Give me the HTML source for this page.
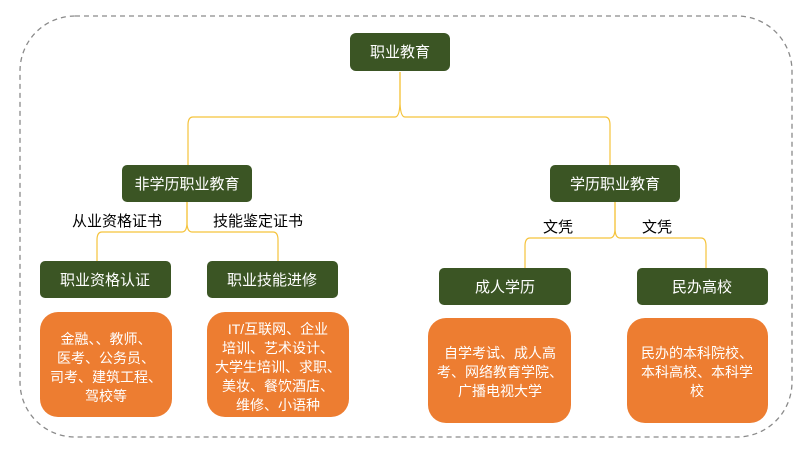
<!DOCTYPE html>
<html><head><meta charset="utf-8">
<style>
html,body{margin:0;padding:0;background:#fff;width:800px;height:450px;overflow:hidden}
svg text{font-family:"Liberation Sans","Noto Sans CJK SC",sans-serif}
</style></head><body>
<svg width="800" height="450" viewBox="0 0 800 450" xmlns="http://www.w3.org/2000/svg">
<rect x="20" y="16" width="772" height="421" rx="55" ry="55" fill="none" stroke="#8a8a8a" stroke-width="1.3" stroke-dasharray="5,4"/>
<g fill="none" stroke="#f5c33b" stroke-width="1.2">
<path d="M400 72 V100 Q400 117 395 117 H193 Q188 117 188 125 V165"/>
<path d="M400 72 V100 Q400 117 405 117 H605 Q610 117 610 125 V165"/>
<path d="M187 202 V222 Q187 232 182 232 H102 Q97 232 97 240 V261"/>
<path d="M187 202 V222 Q187 232 192 232 H273 Q278 232 278 240 V261"/>
<path d="M615 202 V228 Q615 238 610 238 H530 Q525 238 525 246 V268"/>
<path d="M615 202 V228 Q615 238 620 238 H701 Q706 238 706 246 V268"/>
</g>
<g fill="#3b5524">
<rect x="350" y="33" width="100" height="38" rx="6"/>
<rect x="122" y="165" width="130" height="37" rx="5"/>
<rect x="550" y="165" width="130" height="37" rx="5"/>
<rect x="40" y="261" width="131" height="37" rx="5"/>
<rect x="207" y="261" width="131" height="37" rx="5"/>
<rect x="439" y="268" width="132" height="37" rx="5"/>
<rect x="637" y="268" width="131" height="37" rx="5"/>
</g>
<g fill="#ed7d31">
<rect x="40" y="312" width="132" height="105" rx="18"/>
<rect x="207" y="312" width="142" height="105" rx="18"/>
<rect x="428" y="318" width="143" height="105" rx="18"/>
<rect x="627" y="318" width="141" height="105" rx="18"/>
</g>
<g fill="#fff" font-size="15" text-anchor="middle">
<text x="400" y="57">职业教育</text>
<text x="187" y="189">非学历职业教育</text>
<text x="615" y="189">学历职业教育</text>
<text x="105" y="285">职业资格认证</text>
<text x="272" y="285">职业技能进修</text>
<text x="505" y="292">成人学历</text>
<text x="702" y="292">民办高校</text>
</g>
<g fill="#000" font-size="15" text-anchor="middle">
<text x="117" y="226">从业资格证书</text>
<text x="258" y="226">技能鉴定证书</text>
<text x="558" y="232">文凭</text>
<text x="657" y="232">文凭</text>
</g>
<g fill="#fff" font-size="14" text-anchor="middle">
<text x="106" y="344">金融、、教师、</text>
<text x="106" y="363">医考、公务员、</text>
<text x="106" y="382">司考、建筑工程、</text>
<text x="106" y="401">驾校等</text>
<text x="278" y="334">IT/互联网、企业</text>
<text x="278" y="353">培训、艺术设计、</text>
<text x="278" y="372">大学生培训、求职、</text>
<text x="278" y="391">美妆、餐饮酒店、</text>
<text x="278" y="410">维修、小语种</text>
<text x="500" y="358">自学考试、成人高</text>
<text x="500" y="377">考、网络教育学院、</text>
<text x="500" y="396">广播电视大学</text>
<text x="697" y="358">民办的本科院校、</text>
<text x="697" y="377">本科高校、本科学</text>
<text x="697" y="396">校</text>
</g>
</svg>
</body></html>
